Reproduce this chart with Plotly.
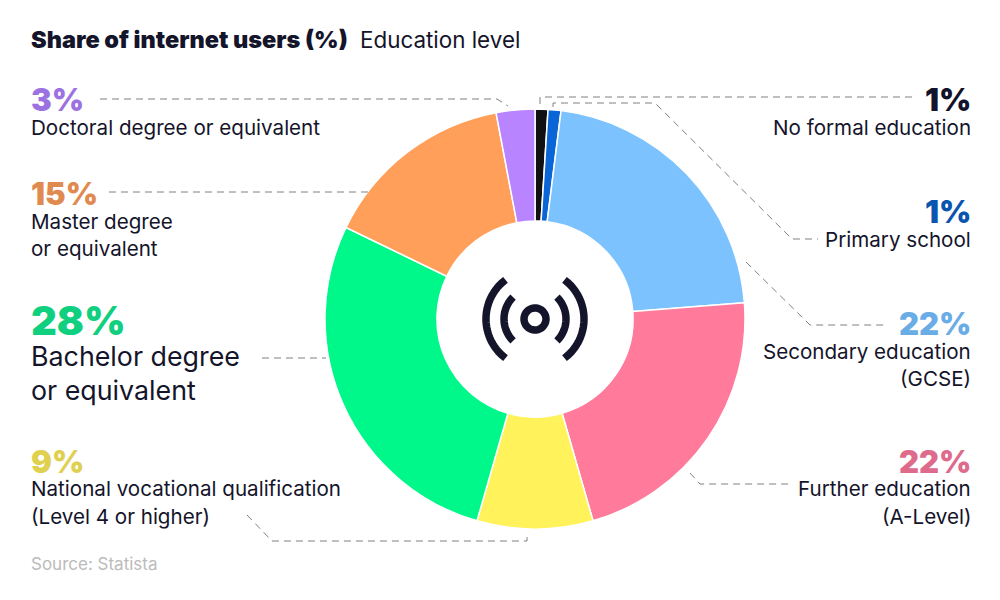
import numpy as np
import plotly.graph_objects as go

categories = ["No formal education", "Primary school", "Secondary education (GCSE)",
              "Further education (A-Level)", "National vocational qualification (Level 4 or higher)",
              "Bachelor degree or equivalent", "Master degree or equivalent",
              "Doctoral degree or equivalent"]
values = [1, 1, 22, 22, 9, 28, 15, 3]

slice_colors = ["#111111", "#0A66D6", "#7CC2FF", "#FF7A9B", "#FFF25A", "#00F88A", "#FF9F5A", "#B884FF"]
label_colors = ["#12122A", "#0A55B0", "#6AACE6", "#DE6A8C", "#E0D050", "#10D080", "#E08A50", "#9C72E0"]
INK = "#14142B"
FONT = "Inter"
W, H = 1000, 600

px = lambda x: x / W
py = lambda y: 1 - y / H

fig = go.Figure(go.Pie(
    labels=categories, values=values, sort=False, direction="clockwise", rotation=0,
    hole=0.467, textinfo="none", hoverinfo="label+percent", showlegend=False,
    marker=dict(colors=slice_colors, line=dict(color="white", width=1.5)),
    domain=dict(x=[px(325), px(745)], y=[py(529), py(109)]),
))

shapes, notes = [], []

def text(x, y, s, size, color=INK, anchor="left", weight=400):
    notes.append(dict(x=px(x), y=py(y), xref="paper", yref="paper", text=s, showarrow=False,
                      xanchor=anchor, yanchor="middle", align=anchor,
                      font=dict(family=FONT, size=size, color=color, weight=weight),
                      borderpad=0, borderwidth=0))

# label layout: (category index, x, anchor, pct y, pct size, line ys, label size, label lines)
layout_rows = [
    (0, 971, "right", 100, 31, [127], 20.6, ["No formal education"]),
    (1, 971, "right", 211, 31, [239], 20.6, ["Primary school"]),
    (2, 971, "right", 323, 31, [351, 378], 20.6, ["Secondary education", "(GCSE)"]),
    (3, 971, "right", 461, 31, [489, 516], 20.6, ["Further education", "(A-Level)"]),
    (4, 31, "left", 461, 31, [489, 516], 20.6, ["National vocational qualification", "(Level 4 or higher)"]),
    (5, 31, "left", 320, 40, [356, 390], 26.8, ["Bachelor degree", "or equivalent"]),
    (6, 31, "left", 194, 31, [221, 248], 20.6, ["Master degree", "or equivalent"]),
    (7, 31, "left", 100, 31, [127], 20.6, ["Doctoral degree or equivalent"]),
]
for idx, x, anchor, y, size, ys, lsize, lines in layout_rows:
    text(x, y, f"{values[idx]}%", size, label_colors[idx], anchor, 900)
    for ly, line in zip(ys, lines):
        text(x, ly, line, lsize, INK, anchor)

text(31, 40, "Share of internet users (%)", 23.5, INK, "left", 900)
text(360, 40, "Education level", 22.4, INK, "left")
text(31, 564, "Source: Statista", 17, "#BBBBBB", "left")

leaders = [
    [(100, 99), (497, 99), (508, 106)],
    [(109, 192), (368, 192)],
    [(262, 358), (326, 358)],
    [(247, 515), (272, 541), (527, 541), (527, 536)],
    [(540, 104), (540, 97), (916, 97)],
    [(553, 107), (553, 103), (655, 103), (792, 239), (818, 239)],
    [(746, 262), (810, 325), (888, 325)],
    [(690, 473), (700, 484), (790, 484)],
]
for pts in leaders:
    d = "M" + "L".join(f"{px(a):.5f},{py(b):.5f}" for a, b in pts)
    shapes.append(dict(type="path", path=d, xref="paper", yref="paper",
                       line=dict(color="#808080", width=1, dash="7px,5px")))

# broadcast icon in the hole
CX, CY = 535, 319
def arc(r, a0, a1):
    t = np.radians(np.linspace(a0, a1, 40))
    return "M" + "L".join(f"{px(CX + r*np.cos(v)):.5f},{py(CY - r*np.sin(v)):.5f}" for v in t)

shapes.append(dict(type="path", path=arc(11, 0, 360) + "Z", xref="paper", yref="paper",
                   line=dict(color=INK, width=7.5)))
for r, half in ((31, 45), (49, 53)):
    for mid in (0, 180):
        shapes.append(dict(type="path", path=arc(r, mid - half, mid + half), xref="paper", yref="paper",
                           line=dict(color=INK, width=7.5)))

fig.update_layout(width=W, height=H, margin=dict(l=0, r=0, t=0, b=0), autosize=False,
                  paper_bgcolor="white", plot_bgcolor="white",
                  shapes=shapes, annotations=notes)
fig.write_html("out.html", config=dict(displayModeBar=False),
               post_script="document.body.style.margin='0';document.body.style.overflow='hidden';")
